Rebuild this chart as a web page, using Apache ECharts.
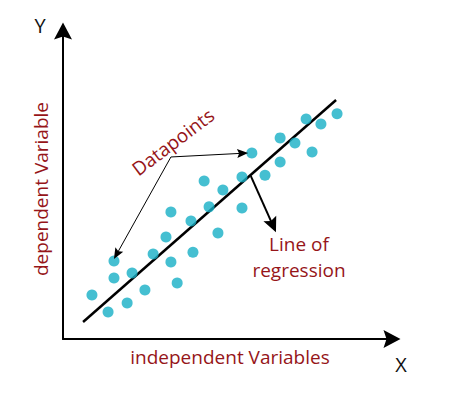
<!DOCTYPE html>
<html>
<head>
<meta charset="utf-8">
<script src="https://cdn.jsdelivr.net/npm/echarts@6/dist/echarts.min.js"></script>
<style>
html,body{margin:0;padding:0;background:#fff;}
#chart{width:470px;height:398px;}
</style>
</head>
<body>
<div id="chart"></div>
<script>
// Data (x, y), axes run 0..10
var pointsX = [0.88,1.37,1.95,1.55,1.55,2.10,2.49,2.74,3.13,3.28,3.28,3.47,3.89,3.95,4.29,4.44,4.71,4.86,5.44,5.44,5.74,6.14,6.60,6.60,7.05,7.39,7.57,7.84,8.33];
var pointsY = [1.43,0.88,1.17,1.98,2.53,2.14,1.59,2.76,3.31,4.12,2.50,1.82,3.83,2.82,5.13,4.29,3.44,4.84,5.26,4.25,6.04,5.32,6.53,5.75,6.36,7.14,6.07,6.98,7.31];
var regressionX = [0.61, 8.30];
var regressionY = [0.55, 7.76];
// annotation arrows: [start, end]
var datapointsArrowStart = [3.28, 5.91];
var datapointsArrowEnds = [[5.46, 6.03], [1.63, 2.75]];
var regressionArrow = [[5.71, 5.29], [6.38, 3.69]];

var labels = {
  y: 'Y', x: 'X',
  yName: 'dependent Variable',
  xName: 'independent Variables',
  datapoints: 'Datapoints',
  regression: 'Line of\nregression'
};

var TEAL = '#17afc5';
var RED = '#961519';
var FONT = 'Open Sans';
var arrowPath = 'path://M0,0 L9,17 L0,14 L-9,17 Z';

var chart = echarts.init(document.getElementById('chart'), null, {renderer: 'svg'});

var scatterData = pointsX.map(function (x, i) { return [x, pointsY[i]]; });
var regData = regressionX.map(function (x, i) { return [x, regressionY[i]]; });

var axisCommon = {
  type: 'value', min: 0, max: 10,
  axisLabel: {show: false}, axisTick: {show: false}, splitLine: {show: false},
  axisLine: {
    show: true, onZero: false,
    symbol: ['none', arrowPath], symbolSize: [18, 17],
    lineStyle: {color: '#000', width: 2}
  }
};

var option = {
  animation: false,
  backgroundColor: '#fff',
  grid: {left: 63, right: 78, top: 31, bottom: 59, containLabel: false},
  xAxis: axisCommon,
  yAxis: axisCommon,
  series: [
    {
      type: 'line', data: regData, symbol: 'none', silent: true,
      lineStyle: {color: '#000', width: 2.5}, z: 3,
      markLine: {
        silent: true, animation: false,
        symbol: ['none', arrowPath],
        label: {show: false},
        data: [
          [{coord: regressionArrow[0], symbolSize: [14, 15], lineStyle: {color: '#000', width: 2, type: 'solid'}},
           {coord: regressionArrow[1], symbolSize: [14, 15]}]
        ].concat(datapointsArrowEnds.map(function (e) {
          return [{coord: datapointsArrowStart, symbolSize: [9, 11], lineStyle: {color: '#000', width: 1, type: 'solid'}},
                  {coord: e, symbolSize: [9, 11]}];
        }))
      }
    },
    {
      type: 'scatter', data: scatterData, symbol: 'circle', symbolSize: 11,
      itemStyle: {color: TEAL}, z: 4
    }
  ],
  graphic: [
    {type: 'text', x: 40, y: 25, style: {text: labels.y, font: '20px "' + FONT + '"', fill: '#111', align: 'center', verticalAlign: 'middle'}},
    {type: 'text', x: 401, y: 364, style: {text: labels.x, font: '20px "' + FONT + '"', fill: '#111', align: 'center', verticalAlign: 'middle'}},
    {type: 'text', x: 41, y: 189, rotation: Math.PI / 2, style: {text: labels.yName, font: '19px "' + FONT + '"', fill: RED, align: 'center', verticalAlign: 'middle'}},
    {type: 'text', x: 230, y: 357, style: {text: labels.xName, font: '19px "' + FONT + '"', fill: RED, align: 'center', verticalAlign: 'middle'}},
    {type: 'text', x: 173, y: 142, rotation: 37 * Math.PI / 180, style: {text: labels.datapoints, font: '19px "' + FONT + '"', fill: RED, align: 'center', verticalAlign: 'middle'}},
    {type: 'text', x: 299, y: 257, style: {text: labels.regression, font: '19px "' + FONT + '"', lineHeight: 26, fill: RED, align: 'center', verticalAlign: 'middle'}}
  ]
};
chart.setOption(option);
</script>
</body>
</html>
